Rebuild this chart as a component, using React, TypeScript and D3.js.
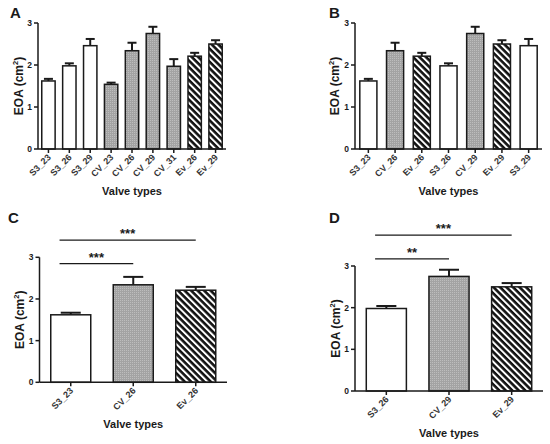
import React from 'react';
import * as d3 from 'd3';

// valve types and measured EOA (mean, SEM)
const valveTypes = ['S3_23', 'S3_26', 'S3_29', 'CV_23', 'CV_26', 'CV_29', 'CV_31', 'Ev_26', 'Ev_29'];
const eoaMean = [1.62, 1.98, 2.46, 1.54, 2.34, 2.75, 1.97, 2.21, 2.5];
const eoaSem = [0.05, 0.06, 0.16, 0.04, 0.19, 0.16, 0.17, 0.08, 0.09];

const orderA = valveTypes;
const orderB = ['S3_23', 'CV_26', 'Ev_26', 'S3_26', 'CV_29', 'Ev_29', 'S3_29'];
const orderC = ['S3_23', 'CV_26', 'Ev_26'];
const orderD = ['S3_26', 'CV_29', 'Ev_29'];

const yTicks = [0, 1, 2, 3];

// comparisons drawn above panels C and D
const sigC = [
  { from: 'S3_23', to: 'CV_26', stars: '***' },
  { from: 'S3_23', to: 'Ev_26', stars: '***' },
];
const sigD = [
  { from: 'S3_26', to: 'CV_29', stars: '**' },
  { from: 'S3_26', to: 'Ev_29', stars: '***' },
];

const FONT = "Arial, 'Liberation Sans', sans-serif";
const INK = '#1a1a1a';

interface Comparison {
  from: string;
  to: string;
  stars: string;
}

interface PanelProps {
  letter: string;
  order: string[];
  x0: number;
  x1: number;
  yBase: number;
  yTop: number;
  titleX: number;
  letterX: number;
  letterY: number;
  sigs?: Comparison[];
  sigLevels?: number[];
}

const fillFor = (name: string) => {
  if (name.startsWith('CV')) return 'url(#dots)';
  if (name.startsWith('Ev')) return 'url(#stripes)';
  return '#fff';
};

const Panel: React.FC<PanelProps> = ({
  letter, order, x0, x1, yBase, yTop, titleX, letterX, letterY, sigs = [], sigLevels = [],
}) => {
  const x = d3.scaleBand().domain(order).range([x0, x1]).paddingInner(0.36).paddingOuter(0.18);
  const y = d3.scaleLinear().domain([0, 3]).range([yBase, yTop]);
  const bw = x.bandwidth();
  const cap = Math.max(bw * 0.5, 9);
  const midX = (x0 + x1) / 2;
  const midY = (yBase + yTop) / 2;

  return (
    <g>
      <text x={letterX} y={letterY} fontFamily={FONT} fontWeight="bold" fontSize={15} fill={INK}>
        {letter}
      </text>

      {order.map((name) => {
        const i = valveTypes.indexOf(name);
        const cx = (x(name) as number) + bw / 2;
        const top = y(eoaMean[i] + eoaSem[i]);
        return (
          <g key={name}>
            <line x1={cx} x2={cx} y1={y(eoaMean[i])} y2={top} stroke={INK} strokeWidth={2} />
            <line x1={cx - cap / 2} x2={cx + cap / 2} y1={top} y2={top} stroke={INK} strokeWidth={2} />
            <rect
              x={x(name)}
              y={y(eoaMean[i])}
              width={bw}
              height={yBase - y(eoaMean[i])}
              fill={fillFor(name)}
              stroke={INK}
              strokeWidth={1.5}
            />
          </g>
        );
      })}

      {/* y axis */}
      <line x1={x0} x2={x0} y1={yBase} y2={yTop} stroke={INK} strokeWidth={1.5} />
      {yTicks.map((t) => (
        <g key={t}>
          <line x1={x0 - 4} x2={x0} y1={y(t)} y2={y(t)} stroke={INK} strokeWidth={1.5} />
          <text x={x0 - 6} y={y(t)} dy="0.35em" textAnchor="end" fontFamily={FONT} fontWeight="bold" fontSize={8.5} fill={INK}>
            {t}
          </text>
        </g>
      ))}

      {/* x axis */}
      <line x1={x0} x2={x1} y1={yBase} y2={yBase} stroke={INK} strokeWidth={1.5} />
      {order.map((name) => {
        const cx = (x(name) as number) + bw / 2;
        return (
          <g key={name}>
            <line x1={cx} x2={cx} y1={yBase} y2={yBase + 4} stroke={INK} strokeWidth={1.5} />
            <text
              transform={`translate(${cx + 3},${yBase + 9})rotate(-45)`}
              textAnchor="end"
              fontFamily={FONT}
              fontWeight="bold"
              fontSize={9}
              fill="#333"
            >
              {name}
            </text>
          </g>
        );
      })}

      <text x={midX} y={yBase + 46} textAnchor="middle" fontFamily={FONT} fontWeight="bold" fontSize={11} fill={INK}>
        Valve types
      </text>
      <text
        transform={`translate(${titleX},${midY})rotate(-90)`}
        textAnchor="middle"
        fontFamily={FONT}
        fontWeight="bold"
        fontSize={12}
        fill={INK}
      >
        EOA (cm<tspan fontSize={7.5} dy={-5}>2</tspan><tspan dy={5}>)</tspan>
      </text>

      {sigs.map((s, k) => {
        const ly = y(sigLevels[k]);
        const a = (x(s.from) as number) + bw * 0.22;
        const b = (x(s.to) as number) + bw / 2;
        return (
          <g key={k}>
            <line x1={a} x2={b} y1={ly} y2={ly} stroke={INK} strokeWidth={1.3} />
            <text x={(a + b) / 2} y={ly - 2} textAnchor="middle" fontFamily={FONT} fontWeight="bold" fontSize={13} fill={INK}>
              {s.stars}
            </text>
          </g>
        );
      })}
    </g>
  );
};

const App: React.FC = () => (
  <div style={{ position: 'absolute', left: 0, top: 0 }}>
    <svg width={550} height={444} style={{ display: 'block', background: '#fff' }}>
      <defs>
        <pattern id="dots" patternUnits="userSpaceOnUse" width={2} height={2}>
          <rect width={2} height={2} fill="#a3a3a3" />
          <rect width={1} height={1} fill="#bdbdbd" />
        </pattern>
        <pattern id="stripes" patternUnits="userSpaceOnUse" width={4.6} height={4.6} patternTransform="rotate(-45)">
          <rect width={4.6} height={4.6} fill="#111" />
          <rect width={2} height={4.6} fill="#fff" />
        </pattern>
      </defs>
      <Panel letter="A" order={orderA} x0={38} x1={226} yBase={149} yTop={23} titleX={23} letterX={10} letterY={18} />
      <Panel letter="B" order={orderB} x0={355} x1={542} yBase={149} yTop={23} titleX={339} letterX={329} letterY={18} />
      <Panel
        letter="C"
        order={orderC}
        x0={39.5}
        x1={227}
        yBase={382.3}
        yTop={257.3}
        titleX={24}
        letterX={8}
        letterY={223}
        sigs={sigC}
        sigLevels={[2.85, 3.41]}
      />
      <Panel
        letter="D"
        order={orderD}
        x0={355}
        x1={543}
        yBase={391}
        yTop={266}
        titleX={340}
        letterX={329}
        letterY={223}
        sigs={sigD}
        sigLevels={[3.17, 3.74]}
      />
    </svg>
  </div>
);

export default App;
